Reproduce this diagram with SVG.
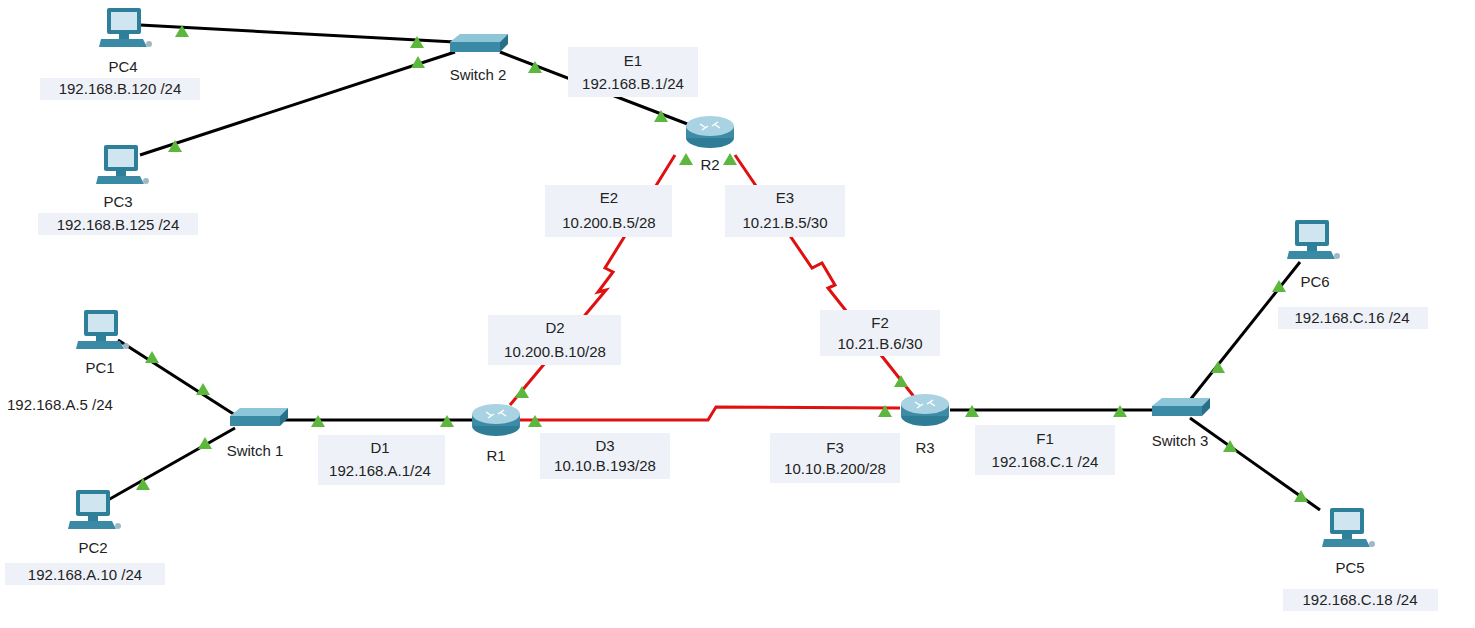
<svg xmlns="http://www.w3.org/2000/svg" width="1475" height="628" viewBox="0 0 1475 628">
<defs>
<style>
text{font-family:"Liberation Sans",Arial,sans-serif;font-size:15px;fill:#222;text-anchor:middle}
.eth{stroke:#000;stroke-width:3;fill:none}
.ser{stroke:#e01010;stroke-width:3;fill:none}
.lb{fill:#eef2f8}
.tri{fill:#5cb83c}
</style>
<g id="pc">
<rect x="-18" y="-22" width="34" height="26" rx="2" fill="#2d7f9a"/>
<rect x="-14" y="-18" width="26" height="18" fill="#cfe6f0"/>
<rect x="-6" y="4" width="10" height="5" fill="#2d7f9a"/>
<path d="M-24 9 H18 L22 17 H-26 Z" fill="#3a8aa6"/>
<circle cx="24" cy="14" r="3" fill="#9fb8c4"/>
</g>
<g id="sw">
<path d="M-28 -2 L-18 -10 H30 L22 -2 Z" fill="#8cc6d8"/>
<path d="M-28 -2 H22 V8 H-28 Z" fill="#3a8aa6"/>
<path d="M22 -2 L30 -10 V0 L22 8 Z" fill="#26708a"/>
</g>
<g id="rt">
<ellipse cx="0" cy="6" rx="24" ry="10" fill="#2f7c96"/>
<rect x="-24" y="-6" width="48" height="12" fill="#3d8ba6"/>
<ellipse cx="0" cy="-6" rx="24" ry="10" fill="#a9d3e2"/>
<path d="M-10 -8 L-4 -4 M10 -4 L4 -8 M-8 -2 L-2 -6 M8 -10 L2 -6" stroke="#fff" stroke-width="1.5"/>
</g>
<polygon id="t" points="0,-7 7,5 -7,5" class="tri"/>
</defs>
<rect width="1475" height="628" fill="#fff"/>
<g id="connectors">
<path class="eth" d="M140 25 L455 42"/>
<path class="eth" d="M140 155 L455 52"/>
<path class="eth" d="M500 52 L690 125"/>
<path class="eth" d="M118 340 L235 415"/>
<path class="eth" d="M108 500 L235 428"/>
<path class="eth" d="M280 420 L473 420"/>
<path class="eth" d="M950 410 L1155 410"/>
<path class="eth" d="M1190 400 L1300 262"/>
<path class="eth" d="M1190 418 L1320 510"/>
<path class="ser" d="M675 155 L605 268 L613 272 L598 292 L606 290 L510 405"/>
<path class="ser" d="M735 155 L812 268 L822 263 L835 285 L828 288 L915 398"/>
<path class="ser" d="M520 420 L708 420 L716 407 L900 408"/>
<use href="#t" x="182" y="32"/><use href="#t" x="417" y="43"/>
<use href="#t" x="175" y="147"/><use href="#t" x="418" y="63"/>
<use href="#t" x="535" y="68"/><use href="#t" x="661" y="117"/>
<use href="#t" x="686" y="160"/><use href="#t" x="730" y="160"/>
<use href="#t" x="522" y="393"/><use href="#t" x="901" y="382"/>
<use href="#t" x="535" y="422"/><use href="#t" x="885" y="412"/>
<use href="#t" x="152" y="358"/><use href="#t" x="203" y="390"/>
<use href="#t" x="143" y="485"/><use href="#t" x="205" y="444"/>
<use href="#t" x="318" y="422"/><use href="#t" x="447" y="422"/>
<use href="#t" x="972" y="412"/><use href="#t" x="1120" y="412"/>
<use href="#t" x="1218" y="368"/><use href="#t" x="1279" y="287"/>
<use href="#t" x="1230" y="447"/><use href="#t" x="1301" y="497"/>
</g>
<g id="PC4"><use href="#pc" x="125" y="30"/><text x="123" y="72">PC4</text><rect class="lb" x="40" y="78" width="160" height="22"/><text x="120" y="94">192.168.B.120 /24</text></g>
<g id="PC3"><use href="#pc" x="122" y="167"/><text x="118" y="207">PC3</text><rect class="lb" x="38" y="213" width="160" height="22"/><text x="118" y="230">192.168.B.125 /24</text></g>
<g id="Switch2"><use href="#sw" x="478" y="44"/><text x="478" y="80">Switch 2</text></g>
<g id="R2"><use href="#rt" x="710" y="132"/><text x="710" y="170">R2</text></g>
<g id="PC1"><use href="#pc" x="102" y="332"/><text x="100" y="373">PC1</text><text x="60" y="410">192.168.A.5 /24</text></g>
<g id="Switch1"><use href="#sw" x="258" y="418"/><text x="255" y="456">Switch 1</text></g>
<g id="PC2"><use href="#pc" x="94" y="512"/><text x="93" y="553">PC2</text><rect class="lb" x="5" y="563" width="160" height="22"/><text x="85" y="580">192.168.A.10 /24</text></g>
<g id="R1"><use href="#rt" x="496" y="420"/><text x="496" y="461">R1</text></g>
<g id="R3"><use href="#rt" x="925" y="410"/><text x="925" y="453">R3</text></g>
<g id="Switch3"><use href="#sw" x="1180" y="408"/><text x="1180" y="446">Switch 3</text></g>
<g id="PC6"><use href="#pc" x="1313" y="242"/><text x="1315" y="287">PC6</text><rect class="lb" x="1278" y="307" width="150" height="22"/><text x="1352" y="323">192.168.C.16 /24</text></g>
<g id="PC5"><use href="#pc" x="1348" y="530"/><text x="1350" y="573">PC5</text><rect class="lb" x="1283" y="589" width="155" height="22"/><text x="1360" y="605">192.168.C.18 /24</text></g>
<g id="labels">
<rect class="lb" x="568" y="47" width="130" height="50"/><text x="633" y="66">E1</text><text x="633" y="89">192.168.B.1/24</text>
<rect class="lb" x="545" y="185" width="127" height="52"/><text x="609" y="203">E2</text><text x="609" y="228">10.200.B.5/28</text>
<rect class="lb" x="725" y="185" width="120" height="52"/><text x="785" y="203">E3</text><text x="785" y="228">10.21.B.5/30</text>
<rect class="lb" x="488" y="315" width="133" height="50"/><text x="555" y="333">D2</text><text x="555" y="357">10.200.B.10/28</text>
<rect class="lb" x="820" y="310" width="120" height="46"/><text x="880" y="328">F2</text><text x="880" y="349">10.21.B.6/30</text>
<rect class="lb" x="318" y="435" width="127" height="50"/><text x="380" y="453">D1</text><text x="380" y="476">192.168.A.1/24</text>
<rect class="lb" x="540" y="433" width="130" height="46"/><text x="605" y="451">D3</text><text x="605" y="471">10.10.B.193/28</text>
<rect class="lb" x="770" y="433" width="130" height="50"/><text x="835" y="453">F3</text><text x="835" y="474">10.10.B.200/28</text>
<rect class="lb" x="975" y="425" width="140" height="50"/><text x="1045" y="444">F1</text><text x="1045" y="467">192.168.C.1 /24</text>
</g>
</svg>
